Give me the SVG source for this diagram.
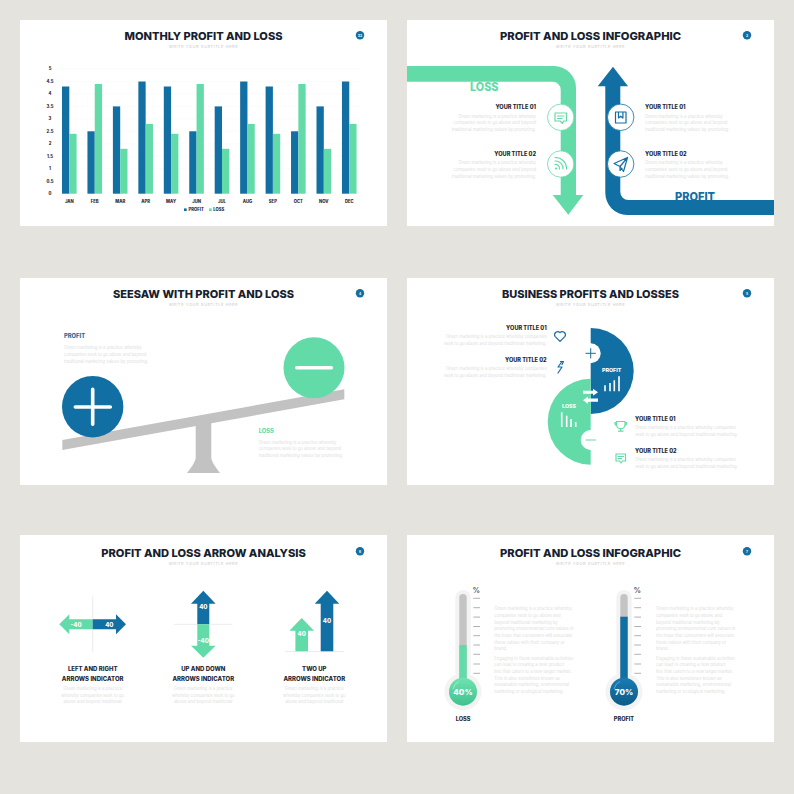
<svg xmlns="http://www.w3.org/2000/svg" width="794" height="794" viewBox="0 0 794 794">
<defs><style>
text{font-family:"Inter","Liberation Sans",sans-serif}
.card{fill:#fff}
.h{font-size:10.8px;font-weight:800;fill:#16202e;text-anchor:middle}
.s{font-size:3.9px;fill:#d2d2d2;text-anchor:middle;letter-spacing:.6px;font-weight:500}
.n{font-size:3.2px;fill:#fff;text-anchor:middle;font-weight:700}
.b{fill:#126fa3}.g{fill:#63dba8}
.t{font-size:5.6px;font-weight:800;fill:#1f2733}
.tw{font-size:6px;font-weight:800;fill:#1f2733;text-anchor:middle}
.p{font-size:4.25px;fill:#e0e0e0}
.e{text-anchor:end}.m{text-anchor:middle}
.ax{font-size:4.2px;font-weight:800;fill:#1f2733;text-anchor:middle}
.w{font-weight:800;fill:#fff;text-anchor:middle}
.ic{fill:none;stroke-width:1.2;stroke-linecap:round;stroke-linejoin:round}
.sb{stroke:#126fa3}.sg{stroke:#63dba8}
.l{stroke:#e2e2e2;stroke-width:.7}
.grid{stroke:#f7f7f7;stroke-width:.5}
.tick{stroke:#8f8f8f;stroke-width:.7}
</style>
<linearGradient id="gg" x1="0" y1="0" x2="0" y2="1"><stop offset="0" stop-color="#6fe3b2"/><stop offset="1" stop-color="#3fc18d"/></linearGradient>
<linearGradient id="gb" x1="0" y1="0" x2="0" y2="1"><stop offset="0" stop-color="#1a7cb2"/><stop offset="1" stop-color="#0d5a87"/></linearGradient>
</defs>
<rect width="794" height="794" fill="#e4e3de"/>

<g id="panel-1">
<rect class="card" x="20" y="20" width="367" height="206"/>
<text class="h" x="203.5" y="40" textLength="158" lengthAdjust="spacingAndGlyphs">MONTHLY PROFIT AND LOSS</text>
<text class="s" x="203.5" y="48">WRITE YOUR SUBTITLE HERE</text>
<circle class="b" cx="360" cy="35.3" r="4.2"/><text class="n" x="360" y="36.5">23</text>
<g id="grid"><path class="grid" d="M58 68.9H360M58 81.4H360M58 93.9H360M58 106.4H360M58 118.9H360M58 131.3H360M58 143.8H360M58 156.3H360M58 168.8H360M58 181.2H360"/></g>
<g class="ax">
<text x="50" y="195.2">0</text><text x="50" y="182.7">0.5</text><text x="50" y="170.3">1</text><text x="50" y="157.8">1.5</text><text x="50" y="145.3">2</text><text x="50" y="132.8">2.5</text><text x="50" y="120.4">3</text><text x="50" y="107.9">3.5</text><text x="50" y="95.4">4</text><text x="50" y="82.9">4.5</text><text x="50" y="70.4">5</text>
</g>
<g id="bars-profit" class="b">
<rect x="62" y="86.5" width="7.3" height="107.2"/><rect x="87.45" y="131.3" width="7.3" height="62.4"/><rect x="112.9" y="106.4" width="7.3" height="87.3"/><rect x="138.35" y="81.5" width="7.3" height="112.2"/><rect x="163.8" y="86.5" width="7.3" height="107.2"/><rect x="189.25" y="131.3" width="7.3" height="62.4"/><rect x="214.7" y="106.4" width="7.3" height="87.3"/><rect x="240.15" y="81.5" width="7.3" height="112.2"/><rect x="265.6" y="86.5" width="7.3" height="107.2"/><rect x="291.05" y="131.3" width="7.3" height="62.4"/><rect x="316.5" y="106.4" width="7.3" height="87.3"/><rect x="341.95" y="81.5" width="7.3" height="112.2"/>
</g>
<g id="bars-loss" class="g">
<rect x="69.3" y="133.8" width="7.3" height="59.9"/><rect x="94.75" y="84" width="7.3" height="109.7"/><rect x="120.2" y="148.8" width="7.3" height="44.9"/><rect x="145.65" y="123.9" width="7.3" height="69.8"/><rect x="171.1" y="133.8" width="7.3" height="59.9"/><rect x="196.55" y="84" width="7.3" height="109.7"/><rect x="222" y="148.8" width="7.3" height="44.9"/><rect x="247.45" y="123.9" width="7.3" height="69.8"/><rect x="272.9" y="133.8" width="7.3" height="59.9"/><rect x="298.35" y="84" width="7.3" height="109.7"/><rect x="323.8" y="148.8" width="7.3" height="44.9"/><rect x="349.25" y="123.9" width="7.3" height="69.8"/>
</g>
<g>
<text class="ax" x="69.3" y="203.3">JAN</text><text class="ax" x="94.75" y="203.3">FEB</text><text class="ax" x="120.2" y="203.3">MAR</text><text class="ax" x="145.65" y="203.3">APR</text><text class="ax" x="171.1" y="203.3">MAY</text><text class="ax" x="196.55" y="203.3">JUN</text><text class="ax" x="222" y="203.3">JUL</text><text class="ax" x="247.45" y="203.3">AUG</text><text class="ax" x="272.9" y="203.3">SEP</text><text class="ax" x="298.35" y="203.3">OCT</text><text class="ax" x="323.8" y="203.3">NOV</text><text class="ax" x="349.25" y="203.3">DEC</text>
</g>
<g id="legend">
<rect class="b" x="184" y="208.4" width="2.7" height="2.7"/><text class="ax" x="188.5" y="211.2" style="text-anchor:start">PROFIT</text>
<rect class="g" x="209" y="208.4" width="2.7" height="2.7"/><text class="ax" x="213.3" y="211.2" style="text-anchor:start">LOSS</text>
</g>
</g>

<g id="panel-2">
<rect class="card" x="407" y="20" width="367" height="206"/>
<text class="h" x="590.5" y="40" textLength="181" lengthAdjust="spacingAndGlyphs">PROFIT AND LOSS INFOGRAPHIC</text>
<text class="s" x="590.5" y="48">WRITE YOUR SUBTITLE HERE</text>
<circle class="b" cx="747" cy="35.3" r="4.2"/><text class="n" x="747" y="36.5">3</text>
<path id="loss-arrow" class="g" d="M407 66H554A22 22 0 0 1 576 88V195H583.3L568.3 214.7L552.7 195H560.7V90A8 8 0 0 0 552.7 81.7H407Z"/>
<path id="profit-arrow" class="b" d="M774 215H627A22 22 0 0 1 605.3 193V86.3H597.7L613 66.7L628 86.3H620.3V192A8 8 0 0 0 628.3 200H774Z"/>
<text x="470" y="90.5" font-size="11.5" font-weight="800" fill="#63dba8" textLength="28.5" lengthAdjust="spacingAndGlyphs">LOSS</text>
<text x="675" y="200.5" font-size="11.5" font-weight="800" fill="#126fa3" textLength="40" lengthAdjust="spacingAndGlyphs">PROFIT</text>
<g id="loss-1"><circle cx="560.7" cy="117.3" r="13.2" fill="#fff" stroke="#63dba8" stroke-width=".8"/>
<path class="ic sg" d="M555 113h11.5v8h-3l-1 2.5-2.5-2.5h-5zM557.500 116h6.500M557.500 118.500h4.500"/>
<text class="t e" x="536" y="109">YOUR TITLE 01</text>
<text class="p e"><tspan x="536" y="117.700">Green marketing is a practice whereby</tspan><tspan x="536" y="124.400">companies seek to go above and beyond</tspan><tspan x="536" y="131">traditional marketing values by promoting.</tspan></text></g>
<g id="loss-2"><circle cx="560.7" cy="164" r="13.2" fill="#fff" stroke="#63dba8" stroke-width=".8"/>
<path class="ic sg" d="M555 157.500a11 11 0 0 1 11.500 11.500M555 161a7.500 7.500 0 0 1 8 8M555 164.500a4 4 0 0 1 4.500 4.500"/><circle class="g" cx="556" cy="168.500" r="1.100"/>
<text class="t e" x="536" y="155.700">YOUR TITLE 02</text>
<text class="p e"><tspan x="536" y="164">Green marketing is a practice whereby</tspan><tspan x="536" y="171">companies seek to go above and beyond</tspan><tspan x="536" y="177.700">traditional marketing values by promoting.</tspan></text></g>
<g id="profit-1"><circle cx="620.700" cy="117.3" r="13.2" fill="#fff" stroke="#126fa3" stroke-width=".8"/>
<path class="ic sb" d="M615.500 112h10.500v11h-10.500zM618.500 112v6l2.200-1.800 2.200 1.800v-6"/>
<text class="t" x="645" y="109">YOUR TITLE 01</text>
<text class="p"><tspan x="645" y="117.700">Green marketing is a practice whereby</tspan><tspan x="645" y="124.400">companies seek to go above and beyond</tspan><tspan x="645" y="131">traditional marketing values by promoting.</tspan></text></g>
<g id="profit-2"><circle cx="620.700" cy="164" r="13.2" fill="#fff" stroke="#126fa3" stroke-width=".8"/>
<path class="ic sb" d="M614 163.500l13.500-6-4 14-3.500-5zM620 166.500l7.500-9M620 166.500v4l2-2"/>
<text class="t" x="645" y="155.700">YOUR TITLE 02</text>
<text class="p"><tspan x="645" y="164">Green marketing is a practice whereby</tspan><tspan x="645" y="171">companies seek to go above and beyond</tspan><tspan x="645" y="177.700">traditional marketing values by promoting.</tspan></text></g>
</g>

<g id="panel-3">
<rect class="card" x="20" y="278" width="367" height="207"/>
<text class="h" x="203.500" y="298" textLength="181" lengthAdjust="spacingAndGlyphs">SEESAW WITH PROFIT AND LOSS</text>
<text class="s" x="203.500" y="306">WRITE YOUR SUBTITLE HERE</text>
<circle class="b" cx="360" cy="293.300" r="4.200"/><text class="n" x="360" y="294.500">4</text>
<g id="seesaw" fill="#c2c2c2"><path d="M195.700 418H211.300V458Q211.300 462 220 473H187Q195.700 462 195.700 458Z"/><path d="M62.300 440L344.300 389.300V399.300L62.300 450Z"/></g>
<g id="profit-ball"><circle class="b" cx="92.700" cy="406.700" r="30.700"/><path d="M75.300 407H110.300M92.700 389.300V424.300" stroke="#fff" stroke-width="3.600" stroke-linecap="round"/></g>
<g id="loss-ball"><circle class="g" cx="314" cy="367.700" r="30.500"/><path d="M296.700 367.700H331.300" stroke="#fff" stroke-width="3.600" stroke-linecap="round"/></g>
<g id="profit-note"><text x="64" y="338" font-size="5.800" font-weight="800" fill="#126fa3">PROFIT</text>
<text class="p"><tspan x="64" y="349">Green marketing is a practice whereby</tspan><tspan x="64" y="356">companies seek to go above and beyond</tspan><tspan x="64" y="362.600">traditional marketing values by promoting.</tspan></text></g>
<g id="loss-note"><text x="258.700" y="433" font-size="5.800" font-weight="800" fill="#63dba8">LOSS</text>
<text class="p"><tspan x="258.700" y="443.700">Green marketing is a practice whereby</tspan><tspan x="258.700" y="450.400">companies seek to go above and beyond</tspan><tspan x="258.700" y="457">traditional marketing values by promoting.</tspan></text></g>
</g>

<g id="panel-4">
<rect class="card" x="407" y="278" width="367" height="207"/>
<text class="h" x="590.500" y="298" textLength="177" lengthAdjust="spacingAndGlyphs">BUSINESS PROFITS AND LOSSES</text>
<text class="s" x="590.500" y="306">WRITE YOUR SUBTITLE HERE</text>
<circle class="b" cx="747" cy="293.300" r="4.200"/><text class="n" x="747" y="294.500">5</text>
<path id="profit-half" class="b" d="M590.700 328A43 43 0 0 1 590.700 414Z"/>
<path id="loss-half" class="g" d="M590.700 378.700A43 43 0 0 0 590.700 464.700Z"/>
<circle cx="590.700" cy="353.300" r="10" fill="#fff"/><circle cx="590.700" cy="440" r="10" fill="#fff"/>
<path d="M585.500 353.300H595.800M590.700 348.200V358.400" stroke="#126fa3" stroke-width="1" fill="none"/>
<path d="M585.500 440H595.800" stroke="#63dba8" stroke-width="1"/>
<text class="w" x="611.700" y="371.700" font-size="5.300">PROFIT</text>
<path d="M605 391.300V385.300M610 391.300V383M614.300 391.300V380.300M619 391.300V376.300" stroke="#fff" stroke-width="1.600"/>
<text class="w" x="569" y="407.700" font-size="5.300">LOSS</text>
<path d="M561.700 427V412.300M566.700 427V415.700M571 427V419M575.700 427V422" stroke="#fff" stroke-width="1.600"/>
<path d="M583 390.800H593V388.800L598 392.300L593 395.800V393.800H583ZM598 398.500H588V396.500L583 400.300L588 403.800V401.800H598Z" fill="#fff"/>
<g id="b-1"><path class="ic sb" d="M560 341.300l-5-5a3.100 3.100 0 0 1 5-3.600a3.100 3.100 0 0 1 5 3.600z"/>
<text class="t e" x="546.700" y="330">YOUR TITLE 01</text>
<text class="p e"><tspan x="546.700" y="338">Green marketing is a practice whereby companies</tspan><tspan x="546.700" y="344.700">seek to go above and beyond traditional marketing.</tspan></text></g>
<g id="b-2"><path class="ic sb" d="M562 361.500l-4 5.500h4l-4 6M560.500 361.500l3 0-1.500 3"/>
<text class="t e" x="546.700" y="362">YOUR TITLE 02</text>
<text class="p e"><tspan x="546.700" y="370">Green marketing is a practice whereby companies</tspan><tspan x="546.700" y="376.700">seek to go above and beyond traditional marketing.</tspan></text></g>
<g id="b-3"><path class="ic sg" d="M616.500 421.500h8.500v3a4.200 4.200 0 0 1-8.500 0zM616.500 422.500h-1.500a2.500 2.500 0 0 0 1.700 3M625 422.500h1.500a2.500 2.500 0 0 1-1.700 3M620.700 428.700v2M618.500 431.200h4.500"/>
<text class="t" x="635" y="421">YOUR TITLE 01</text>
<text class="p"><tspan x="635" y="429.300">Green marketing is a practice whereby companies</tspan><tspan x="635" y="436">seek to go above and beyond traditional marketing.</tspan></text></g>
<g id="b-4"><path class="ic sg" d="M616 454h9.500v7h-3l-1.500 2-1.500-2h-3.500zM618 456.500h5.500M618 458.700h3.500"/>
<text class="t" x="635" y="453">YOUR TITLE 02</text>
<text class="p"><tspan x="635" y="461.300">Green marketing is a practice whereby companies</tspan><tspan x="635" y="468">seek to go above and beyond traditional marketing.</tspan></text></g>
</g>

<g id="panel-5">
<rect class="card" x="20" y="535" width="367" height="207"/>
<text class="h" x="203.500" y="556.500" textLength="204.500" lengthAdjust="spacingAndGlyphs">PROFIT AND LOSS ARROW ANALYSIS</text>
<text class="s" x="203.500" y="564.700">WRITE YOUR SUBTITLE HERE</text>
<circle class="b" cx="360" cy="551.300" r="4.200"/><text class="n" x="360" y="552.500">6</text>
<g id="lr-arrows">
<path class="l" d="M92.700 596.700V651.700"/>
<path class="g" d="M92.700 619.300V629.300H69.300V634.300L59.300 624.300L69.300 614.300V619.300Z"/>
<path class="b" d="M92.700 619.300V629.300H116V634.300L126 624.300L116 614.300V619.300Z"/>
<text class="w" x="76" y="626.500" font-size="6">-40</text><text class="w" x="109.300" y="626.500" font-size="6">40</text>
<text class="tw" x="92.700" y="671.300">LEFT AND RIGHT</text><text class="tw" x="92.700" y="681">ARROWS INDICATOR</text>
<text class="p m"><tspan x="92.700" y="690">Green marketing is a practice</tspan><tspan x="92.700" y="696.700">whereby companies seek to go</tspan><tspan x="92.700" y="703.300">above and beyond traditional</tspan></text>
</g>
<g id="ud-arrows">
<path class="l" d="M174 624.300H232.300"/>
<path class="b" d="M197.300 624.300V603.700H191L203.300 590.700L215.600 603.700H209.300V624.300Z"/>
<path class="g" d="M197.300 624.300V645.700H191L203.300 657.700L215.600 645.700H209.300V624.300Z"/>
<text class="w" x="203.300" y="609.300" font-size="6">40</text><text class="w" x="203.300" y="642.700" font-size="6">-40</text>
<text class="tw" x="203.300" y="671.300">UP AND DOWN</text><text class="tw" x="203.300" y="681">ARROWS INDICATOR</text>
<text class="p m"><tspan x="203.300" y="690">Green marketing is a practice</tspan><tspan x="203.300" y="696.700">whereby companies seek to go</tspan><tspan x="203.300" y="703.300">above and beyond traditional</tspan></text>
</g>
<g id="uu-arrows">
<path class="l" d="M285 651.600H344"/>
<path class="g" d="M295.400 651.300V630.700H289.400L301.700 618L314 630.700H308V651.300Z"/>
<path class="b" d="M320.700 651.300V603.700H314.700L327 590.700L339.300 603.700H333.300V651.300Z"/>
<text class="w" x="301.700" y="636.300" font-size="6">40</text><text class="w" x="327" y="622.700" font-size="6">40</text>
<text class="tw" x="314.300" y="671.300">TWO UP</text><text class="tw" x="314.300" y="681">ARROWS INDICATOR</text>
<text class="p m"><tspan x="314.300" y="690">Green marketing is a practice</tspan><tspan x="314.300" y="696.700">whereby companies seek to go</tspan><tspan x="314.300" y="703.300">above and beyond traditional</tspan></text>
</g>
</g>

<g id="panel-6">
<rect class="card" x="407" y="535" width="367" height="207"/>
<text class="h" x="590.500" y="556.500" textLength="181" lengthAdjust="spacingAndGlyphs">PROFIT AND LOSS INFOGRAPHIC</text>
<text class="s" x="590.500" y="564.700">WRITE YOUR SUBTITLE HERE</text>
<circle class="b" cx="747" cy="551.300" r="4.200"/><text class="n" x="747" y="552.500">7</text>
<g id="thermo-loss">
<rect x="455.300" y="590" width="15.400" height="90" rx="7.700" fill="#f3f3f3"/><circle cx="463" cy="691.700" r="18.500" fill="#f3f3f3"/>
<rect x="459.300" y="594" width="7.400" height="90" rx="3.700" fill="#c4c4c4"/>
<rect class="g" x="459.300" y="645" width="7.400" height="40"/>
<circle cx="463" cy="691.700" r="14" fill="url(#gg)"/>
<path d="M453 689a10.500 10.500 0 0 1 6-7.500" stroke="#a9f0d0" stroke-width=".8" fill="none"/>
<path class="tick" d="M473.300 598.300H480M473.300 607.700H480M473.300 617.100H480M473.300 626.500H480M473.300 635.700H480M473.300 645H480M473.300 654.300H480M473.300 664H480M473.300 673.300H480"/>
<text x="476.300" y="593.300" font-size="7.500" font-weight="600" fill="#4a4f57" text-anchor="middle">%</text>
<text class="w" x="463" y="694.700" font-size="8">40%</text>
<text class="t m" x="463" y="720.500">LOSS</text>
</g>
<g id="thermo-profit">
<rect x="616.300" y="590" width="15.400" height="90" rx="7.700" fill="#f3f3f3"/><circle cx="624" cy="691.700" r="18.500" fill="#f3f3f3"/>
<rect x="620.300" y="594" width="7.400" height="90" rx="3.700" fill="#c4c4c4"/>
<rect class="b" x="620.300" y="616.700" width="7.400" height="68"/>
<circle cx="624" cy="691.700" r="14" fill="url(#gb)"/>
<path d="M614 689a10.500 10.500 0 0 1 6-7.500" stroke="#6fb3d6" stroke-width=".8" fill="none"/>
<path class="tick" d="M634.300 598.300H641M634.300 607.700H641M634.300 617.100H641M634.300 626.500H641M634.300 635.700H641M634.300 645H641M634.300 654.300H641M634.300 664H641M634.300 673.300H641"/>
<text x="637.300" y="593.300" font-size="7.500" font-weight="600" fill="#4a4f57" text-anchor="middle">%</text>
<text class="w" x="624" y="694.700" font-size="8">70%</text>
<text class="t m" x="624" y="720.500">PROFIT</text>
</g>
<text class="p"><tspan x="494.300" y="610.300">Green marketing is a practice whereby</tspan><tspan x="494.300" y="617">companies seek to go above and</tspan><tspan x="494.300" y="623.700">beyond traditional marketing by</tspan><tspan x="494.300" y="630.300">promoting environmental core values in</tspan><tspan x="494.300" y="637">the hope that consumers will associate</tspan><tspan x="494.300" y="643.700">these values with their company or</tspan><tspan x="494.300" y="650.300">brand.</tspan><tspan x="494.300" y="659.700">Engaging in these sustainable activities</tspan><tspan x="494.300" y="666.300">can lead to creating a new product</tspan><tspan x="494.300" y="673">line that caters to a new target market.</tspan><tspan x="494.300" y="679.700">This is also sometimes known as</tspan><tspan x="494.300" y="686.300">sustainable marketing, environmental</tspan><tspan x="494.300" y="693">marketing or ecological marketing.</tspan></text>
<text class="p"><tspan x="656" y="610.300">Green marketing is a practice whereby</tspan><tspan x="656" y="617">companies seek to go above and</tspan><tspan x="656" y="623.700">beyond traditional marketing by</tspan><tspan x="656" y="630.300">promoting environmental core values in</tspan><tspan x="656" y="637">the hope that consumers will associate</tspan><tspan x="656" y="643.700">these values with their company or</tspan><tspan x="656" y="650.300">brand.</tspan><tspan x="656" y="659.700">Engaging in these sustainable activities</tspan><tspan x="656" y="666.300">can lead to creating a new product</tspan><tspan x="656" y="673">line that caters to a new target market.</tspan><tspan x="656" y="679.700">This is also sometimes known as</tspan><tspan x="656" y="686.300">sustainable marketing, environmental</tspan><tspan x="656" y="693">marketing or ecological marketing.</tspan></text>
</g>
</svg>
